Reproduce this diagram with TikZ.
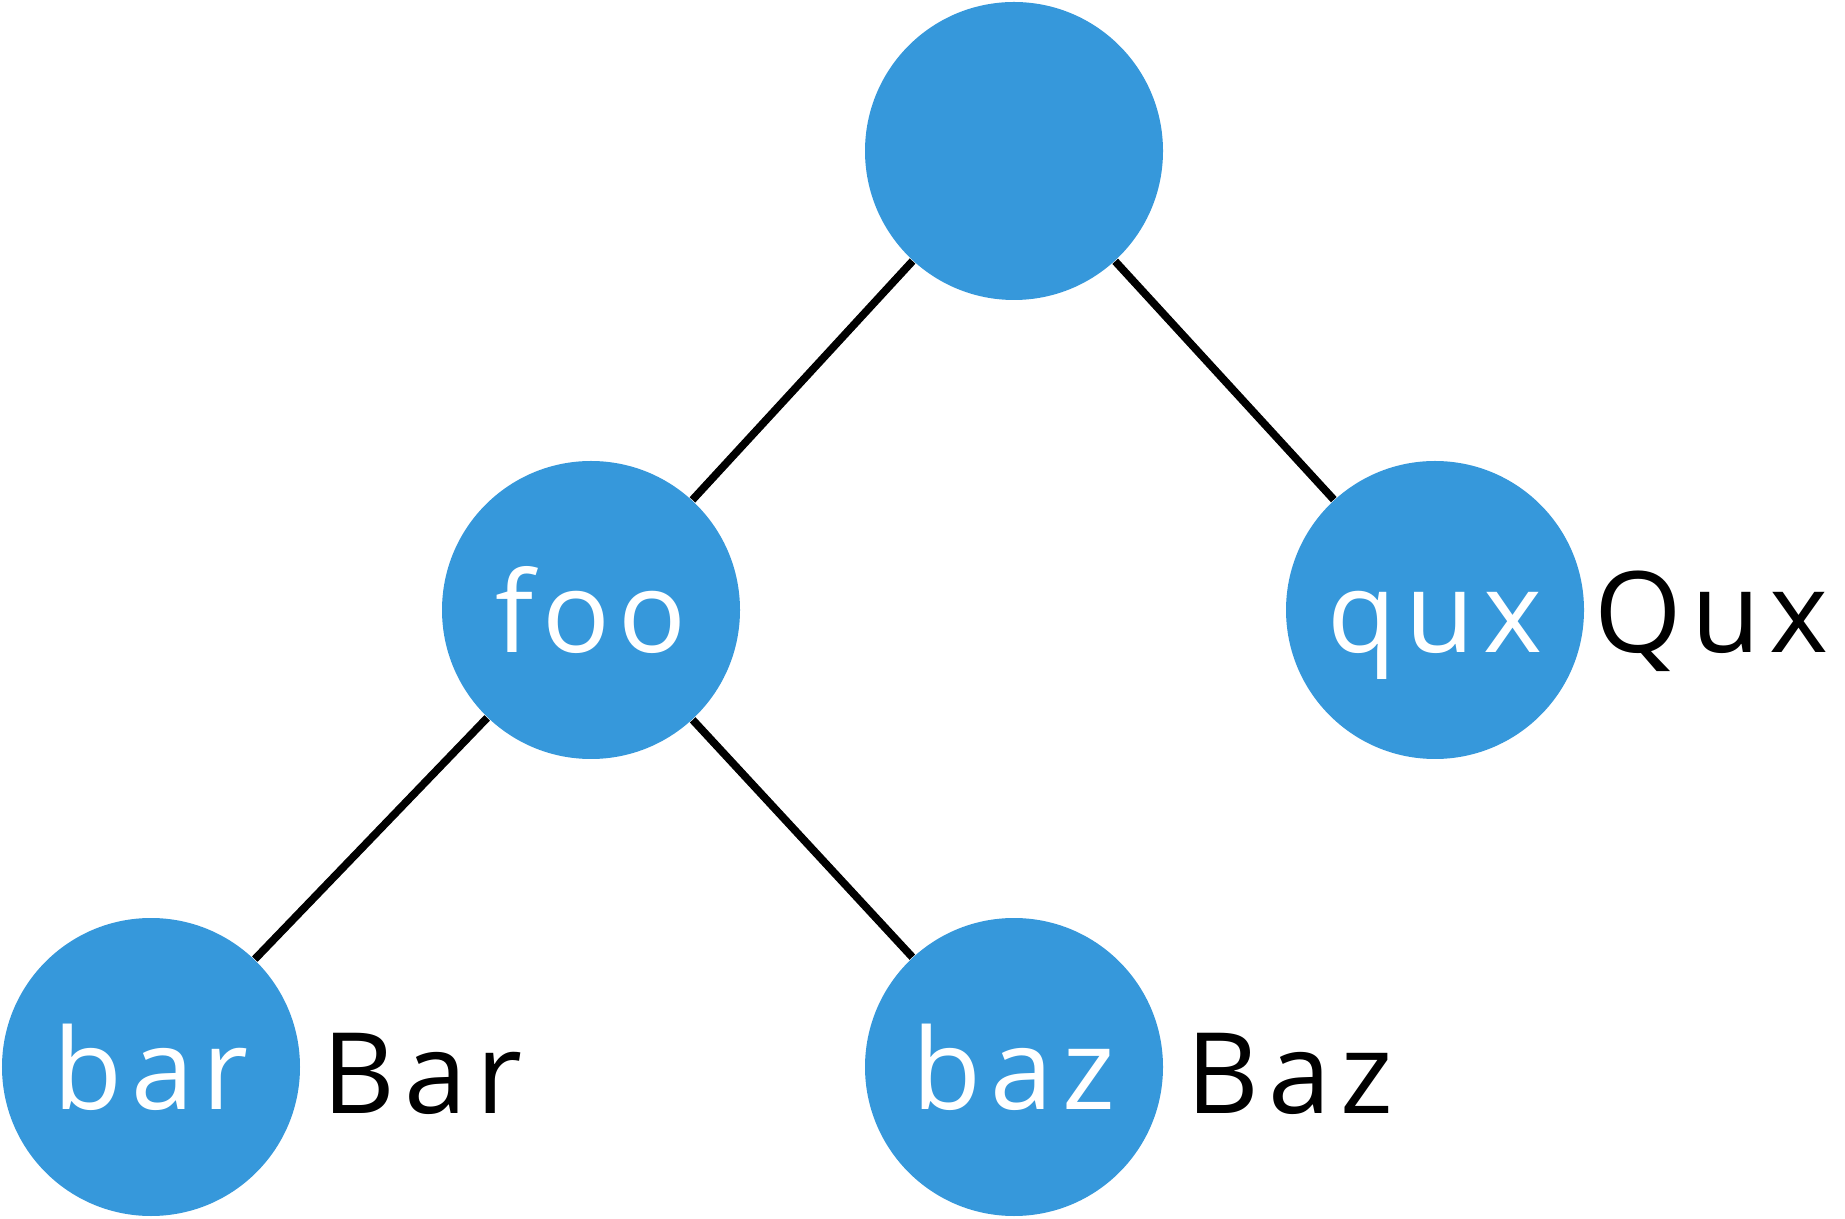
\documentclass[tikz,border=0pt]{standalone}
\usepackage{fontspec}
\newfontfamily\treefont[LetterSpace=8]{Open Sans}
\definecolor{treeblue}{HTML}{3698DB}
\tikzset{
    tr node/.style={circle, fill=treeblue, minimum size=2.98cm,
                    inner sep=0pt, text=white, text height=24pt,
                    text depth=0pt, font=\treefont\fontsize{32}{38}\selectfont},
    tr label/.style={anchor=base west, inner sep=0pt,
                     font=\treefont\fontsize{32}{38}\selectfont},
    tr edge/.style={line width=2.2pt, black},
}

\begin{document}
\begin{tikzpicture}
    \useasboundingbox (0, 0) rectangle (18.45, 12.18);
    % Tree nodes
    \node[tr node] (root) at (10.14, 10.67) {};
    \node[tr node] (foo)  at (5.91, 6.08) {foo};
    \node[tr node] (qux)  at (14.35, 6.08) {qux};
    \node[tr node] (bar)  at (1.51, 1.51) {bar};
    \node[tr node] (baz)  at (10.14, 1.51) {baz};
    % Edges
    \draw[tr edge] (root) -- (foo);
    \draw[tr edge] (root) -- (qux);
    \draw[tr edge] (foo) -- (bar);
    \draw[tr edge] (foo) -- (baz);
    % Leaf labels
    \node[tr label] (quxlbl) at (15.94, 5.65) {Qux};
    \node[tr label] (barlbl) at (3.22, 1.05) {Bar};
    \node[tr label] (bazlbl) at (11.86, 1.05) {Baz};
\end{tikzpicture}
\end{document}
